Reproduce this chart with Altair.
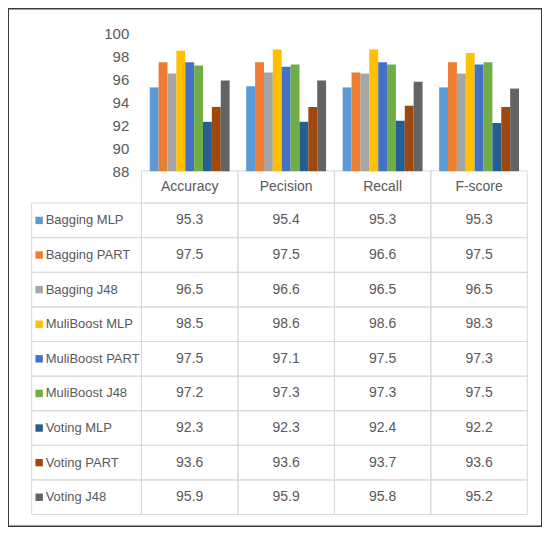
import altair as alt
import pandas as pd

metrics = ["Accuracy", "Pecision", "Recall", "F-score"]
methods = ["Bagging MLP", "Bagging PART", "Bagging J48", "MuliBoost MLP",
           "MuliBoost PART", "MuliBoost J48", "Voting MLP", "Voting PART", "Voting J48"]
colors = ["#5B9BD5", "#ED7D31", "#A5A5A5", "#FFC000", "#4472C4",
          "#70AD47", "#255E91", "#9E480E", "#636363"]
accuracy = [95.3, 97.5, 96.5, 98.5, 97.5, 97.2, 92.3, 93.6, 95.9]
precision = [95.4, 97.5, 96.6, 98.6, 97.1, 97.3, 92.3, 93.6, 95.9]
recall = [95.3, 96.6, 96.5, 98.6, 97.5, 97.3, 92.4, 93.7, 95.8]
fscore = [95.3, 97.5, 96.5, 98.3, 97.3, 97.5, 92.2, 93.6, 95.2]
y_ticks = [88, 90, 92, 94, 96, 98, 100]

series = {"Accuracy": accuracy, "Pecision": precision, "Recall": recall, "F-score": fscore}
rows = []
for m in metrics:
    for meth, v in zip(methods, series[m]):
        rows.append({"metric": m, "method": meth, "value": v, "label": f"{v:.1f}"})
df = pd.DataFrame(rows)
hdr = pd.DataFrame({"metric": metrics, "row": ["header"] * len(metrics)})
lab = pd.DataFrame({"method": methods, "col": ["label"] * len(methods)})

FONT = "Liberation Sans, Arial, sans-serif"
TXT = "#595959"
GRID = "#d9d9d9"
FS = 14

COLS = [133.7, 520.3]
ROWS = [195, 507]
HEAD = [162.7, 195]
LABCOL = [23.7, 133.7]

color = alt.Color("method:N", scale=alt.Scale(domain=methods, range=colors), legend=None)

bars = alt.Chart(df).mark_bar().encode(
    x=alt.X("metric:N", sort=metrics, axis=None,
            scale=alt.Scale(domain=metrics, range=COLS, paddingInner=0.172, paddingOuter=0.086)),
    xOffset=alt.XOffset("method:N", sort=methods,
                        scale=alt.Scale(domain=methods, paddingInner=0, paddingOuter=0)),
    y=alt.Y("value:Q", scale=alt.Scale(domain=[88, 100], range=[163, 25], zero=False, nice=False),
            axis=alt.Axis(values=y_ticks, domain=False, ticks=False, grid=False, title=None,
                          labelFont=FONT, labelFontSize=15, labelColor=TXT,
                          labelPadding=2, offset=-123)),
    y2=alt.datum(88),
    color=color,
)

xcell = alt.X("metric:N", axis=None,
              scale=alt.Scale(domain=metrics, range=COLS, paddingInner=0, paddingOuter=0))
yhead = alt.Y("row:N", axis=None,
              scale=alt.Scale(domain=["header"], range=HEAD, paddingInner=0, paddingOuter=0))
yrow = alt.Y("method:N", axis=None,
             scale=alt.Scale(domain=methods, range=ROWS, paddingInner=0, paddingOuter=0))

head_rect = alt.Chart(hdr).mark_rect(filled=False, color=GRID, strokeWidth=1).encode(x=xcell, y=yhead)
head_text = alt.Chart(hdr).mark_text(font=FONT, fontSize=FS, color=TXT).encode(
    x=xcell, y=yhead, text="metric:N")

cell_rect = alt.Chart(df).mark_rect(filled=False, color=GRID, strokeWidth=1).encode(x=xcell, y=yrow)
cell_text = alt.Chart(df).mark_text(font=FONT, fontSize=FS, color=TXT).encode(
    x=xcell, y=yrow, text="label:N")

xlab = alt.X("col:N", axis=None,
             scale=alt.Scale(domain=["label"], range=LABCOL, paddingInner=0, paddingOuter=0))
xlab0 = alt.X("col:N", axis=None,
              scale=alt.Scale(type="point", domain=["label"], range=LABCOL, padding=0, align=0))
lab_rect = alt.Chart(lab).mark_rect(filled=False, color=GRID, strokeWidth=1).encode(x=xlab, y=yrow)
lab_sq = alt.Chart(lab).mark_square(size=55, opacity=1, xOffset=7.5).encode(
    x=xlab0, y=yrow, color=color)
lab_text = alt.Chart(lab).mark_text(font=FONT, fontSize=13, color=TXT, align="left", dx=14).encode(
    x=xlab0, y=yrow, text="method:N")

chart = alt.layer(
    head_rect, cell_rect, lab_rect, bars, head_text, cell_text, lab_sq, lab_text
).resolve_scale(x="independent", y="independent").properties(
    width=535, height=519, padding=0
).configure_view(stroke="#3a3a3a", strokeWidth=2)

chart.save("out.html", embed_options={"renderer": "svg", "actions": False})
